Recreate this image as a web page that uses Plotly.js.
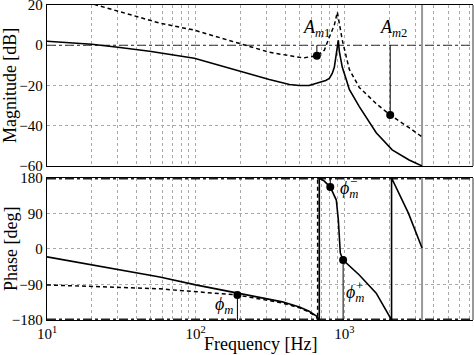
<!DOCTYPE html>
<html>
<head>
<meta charset="utf-8">
<script src="https://cdn.plot.ly/plotly-3.0.1.min.js"></script>
<style>html,body{margin:0;padding:0;background:#fff;}#chart{width:474px;height:355px;}</style>
</head>
<body>
<div id="chart"></div>
<script>
// ---- data ----
const magSolidFreq = [10, 20, 30, 49, 98, 197, 313, 428, 499, 580, 679, 750, 793, 830, 857, 884, 912, 926, 970, 1031, 1081, 1262, 1640, 2100, 2730, 3336];
const magSolidDb   = [2, 0.5, -1, -3, -6.5, -13, -17, -19.5, -20, -20, -18.5, -17.5, -16.5, -14, -11, -4, 2.5, -3, -11, -17, -22, -30.5, -43.5, -52, -57, -60];

const magDashFreq = [10, 21.6, 57.4, 98, 197, 313, 499, 540, 654, 734, 793, 857, 898, 940, 970, 1081, 1262, 1640, 2037, 2730, 3336];
const magDashDb   = [27, 20, 11, 7.5, 1, -3.5, -6, -6.2, -5.2, -2.5, 4, 10, 16.5, 8, 2.5, -12, -21, -29, -34.7, -41, -45.5];

const phSolidFreq = [10, 49, 57.4, 100, 188, 383, 499, 580, 650, 679, 679, 734, 805, 884, 912, 926, 940, 982, 1262, 1640, 2067, 2080, 2080, 2700, 3336];
const phSolidDeg  = [-20, -68, -71, -91, -112, -134, -147, -158, -170, -180, 180, 172, 157, 124, 74, 31, -10, -28, -66, -112, -175, -180, 180, 91, 2.5];

const phDashFreq = [10, 57.4, 191, 383, 499, 580, 650, 662, 662];
const phDashDeg  = [-91, -101, -116.6, -137, -149, -160, -172, -180, 180];

const gainMarginFreq = [654, 2037];
const gainMarginDb   = [-5.2, -34.7];
const phaseMarginFreq = [191, 805, 982];
const phaseMarginDeg  = [-116.6, 157, -28];
const phaseMarginBase = [-180, 180, -180];

const nyquistFreq = 3336;
const magRange = [-60, 20];
const phRange = [-180, 180];
const magTicks = [20, 0, -20, -40, -60];
const magTickText = ['20', '0', '\u221220', '\u221240', '\u221260'];
const phTicks = [180, 90, 0, -90, -180];
const phTickText = ['180', '90', '0', '\u221290', '\u2212180'];
const decades = [10, 100, 1000];
const decadeLabels = ['10<sup>1</sup>', '10<sup>2</sup>', '10<sup>3</sup>'];

// ---- build ----
const minorVals = [];
decades.forEach(d => { for (let m = 2; m <= 9; m++) minorVals.push(d * m); });

const serif = 'Liberation Serif, Times New Roman, serif';
const xEnd = 8000;
const dashPat = '4px,3px';

const traces = [
  {x: [10, xEnd], y: [0, 0], xaxis: 'x', yaxis: 'y', mode: 'lines', line: {color: '#333', width: 1.2, dash: 'dashdot'}},
  {x: [10, xEnd], y: [180, 180], xaxis: 'x2', yaxis: 'y2', mode: 'lines', line: {color: '#222', width: 3, dash: 'dashdot'}},
  {x: [10, xEnd], y: [-180, -180], xaxis: 'x2', yaxis: 'y2', mode: 'lines', line: {color: '#222', width: 3, dash: 'dashdot'}},
  {x: [nyquistFreq, nyquistFreq], y: magRange, xaxis: 'x', yaxis: 'y', mode: 'lines', line: {color: '#999', width: 2}},
  {x: [nyquistFreq, nyquistFreq], y: phRange, xaxis: 'x2', yaxis: 'y2', mode: 'lines', line: {color: '#999', width: 2}},
  {x: magDashFreq, y: magDashDb, xaxis: 'x', yaxis: 'y', mode: 'lines', line: {color: 'black', width: 1.5, dash: dashPat}},
  {x: magSolidFreq, y: magSolidDb, xaxis: 'x', yaxis: 'y', mode: 'lines', line: {color: 'black', width: 1.6}},
  {x: phDashFreq, y: phDashDeg, xaxis: 'x2', yaxis: 'y2', mode: 'lines', line: {color: 'black', width: 1.5, dash: dashPat}},
  {x: phSolidFreq, y: phSolidDeg, xaxis: 'x2', yaxis: 'y2', mode: 'lines', line: {color: 'black', width: 1.6}},
];

gainMarginFreq.forEach((f, i) => {
  traces.push({x: [f, f], y: [0, gainMarginDb[i]], xaxis: 'x', yaxis: 'y', mode: 'lines', line: {color: 'black', width: 1}});
});
phaseMarginFreq.forEach((f, i) => {
  traces.push({x: [f, f], y: [phaseMarginBase[i], phaseMarginDeg[i]], xaxis: 'x2', yaxis: 'y2', mode: 'lines', line: {color: 'black', width: 1}});
});
traces.push({x: gainMarginFreq, y: gainMarginDb, xaxis: 'x', yaxis: 'y', mode: 'markers', marker: {color: 'black', size: 8}});
traces.push({x: phaseMarginFreq, y: phaseMarginDeg, xaxis: 'x2', yaxis: 'y2', mode: 'markers', marker: {color: 'black', size: 8}});

const gridCol = '#a8a8a8';
const axisCommon = {
  type: 'log', range: [1, 3.866], tickmode: 'array', tickvals: decades,
  showgrid: true, gridcolor: gridCol, griddash: 'dot', gridwidth: 1,
  minor: {tickmode: 'array', tickvals: minorVals, showgrid: true, gridcolor: gridCol, griddash: 'dot', gridwidth: 1, ticks: ''},
  showline: true, linecolor: 'black', linewidth: 1.2, mirror: true,
  ticks: '', zeroline: false, tickfont: {family: serif, size: 15, color: 'black'},
  ticklabeloverflow: 'allow'
};
const yCommon = {
  showgrid: true, gridcolor: gridCol, griddash: 'dot', gridwidth: 1,
  showline: true, linecolor: 'black', linewidth: 1.2, mirror: false,
  ticks: '', zeroline: false, tickfont: {family: serif, size: 15, color: 'black'},
  ticklabeloverflow: 'allow'
};

const lab = {family: serif, size: 18, color: 'black'};
const supFont = {family: serif, size: 13, color: 'black'};
const annotations = [
  {xref: 'paper', yref: 'paper', x: -0.085, y: 0.745, text: 'Magnitude [dB]', textangle: -90, showarrow: false, font: lab, xanchor: 'center', yanchor: 'middle'},
  {xref: 'paper', yref: 'paper', x: -0.085, y: 0.225, text: 'Phase [deg]', textangle: -90, showarrow: false, font: lab, xanchor: 'center', yanchor: 'middle'},
  {xref: 'paper', yref: 'paper', x: 0.5, y: -0.075, text: 'Frequency [Hz]', showarrow: false, font: lab, xanchor: 'center', yanchor: 'middle'},
  {xref: 'x', yref: 'y', x: Math.log10(gainMarginFreq[0]), y: 0, yshift: 3, text: '<i>A</i><sub><i>m</i>1</sub>', showarrow: false, font: lab, xanchor: 'center', yanchor: 'bottom'},
  {xref: 'x', yref: 'y', x: Math.log10(gainMarginFreq[1]), y: 0, yshift: 3, xshift: 3, text: '<i>A</i><sub><i>m</i>2</sub>', showarrow: false, font: lab, xanchor: 'center', yanchor: 'bottom'},
  {xref: 'x2', yref: 'y2', x: Math.log10(phaseMarginFreq[0]), y: -142, xshift: -2, text: '<i>\u03D5</i><sub><i>m</i></sub>', showarrow: false, font: lab, xanchor: 'right', yanchor: 'middle'},
  {xref: 'x2', yref: 'y2', x: Math.log10(phaseMarginFreq[1]), y: 150, xshift: 8, text: '<i>\u03D5</i><sub><i>m</i></sub>', showarrow: false, font: lab, xanchor: 'left', yanchor: 'middle'},
  {xref: 'x2', yref: 'y2', x: Math.log10(phaseMarginFreq[1]), y: 150, xshift: 18, yshift: 8, text: '\u2212', showarrow: false, font: supFont, xanchor: 'left', yanchor: 'middle'},
  {xref: 'x2', yref: 'y2', x: Math.log10(phaseMarginFreq[2]), y: -112, xshift: 1, text: '<i>\u03D5</i><sub><i>m</i></sub>', showarrow: false, font: lab, xanchor: 'left', yanchor: 'middle'},
  {xref: 'x2', yref: 'y2', x: Math.log10(phaseMarginFreq[2]), y: -112, xshift: 11, yshift: 8, text: '+', showarrow: false, font: supFont, xanchor: 'left', yanchor: 'middle'},
];

const shapes = [
  {type: 'line', xref: 'x domain', yref: 'y domain', x0: 1, x1: 1, y0: 0, y1: 1, line: {color: '#999', width: 2}},
  {type: 'line', xref: 'x2 domain', yref: 'y2 domain', x0: 1, x1: 1, y0: 0, y1: 1, line: {color: '#999', width: 2}},
];

const layout = {
  width: 474, height: 355,
  margin: {l: 47, r: 1, t: 5, b: 35},
  paper_bgcolor: 'white', plot_bgcolor: 'white', showlegend: false,
  xaxis: Object.assign({}, axisCommon, {anchor: 'y', showticklabels: false}),
  xaxis2: Object.assign({}, axisCommon, {anchor: 'y2', ticktext: decadeLabels}),
  yaxis: Object.assign({}, yCommon, {domain: [0.489, 1], range: magRange, tickmode: 'array', tickvals: magTicks, ticktext: magTickText, anchor: 'x'}),
  yaxis2: Object.assign({}, yCommon, {domain: [0, 0.4508], range: phRange, tickmode: 'array', tickvals: phTicks, ticktext: phTickText, anchor: 'x2'}),
  annotations: annotations,
  shapes: shapes
};

Plotly.newPlot('chart', traces, layout, {displayModeBar: false, staticPlot: true});
</script>
</body>
</html>
